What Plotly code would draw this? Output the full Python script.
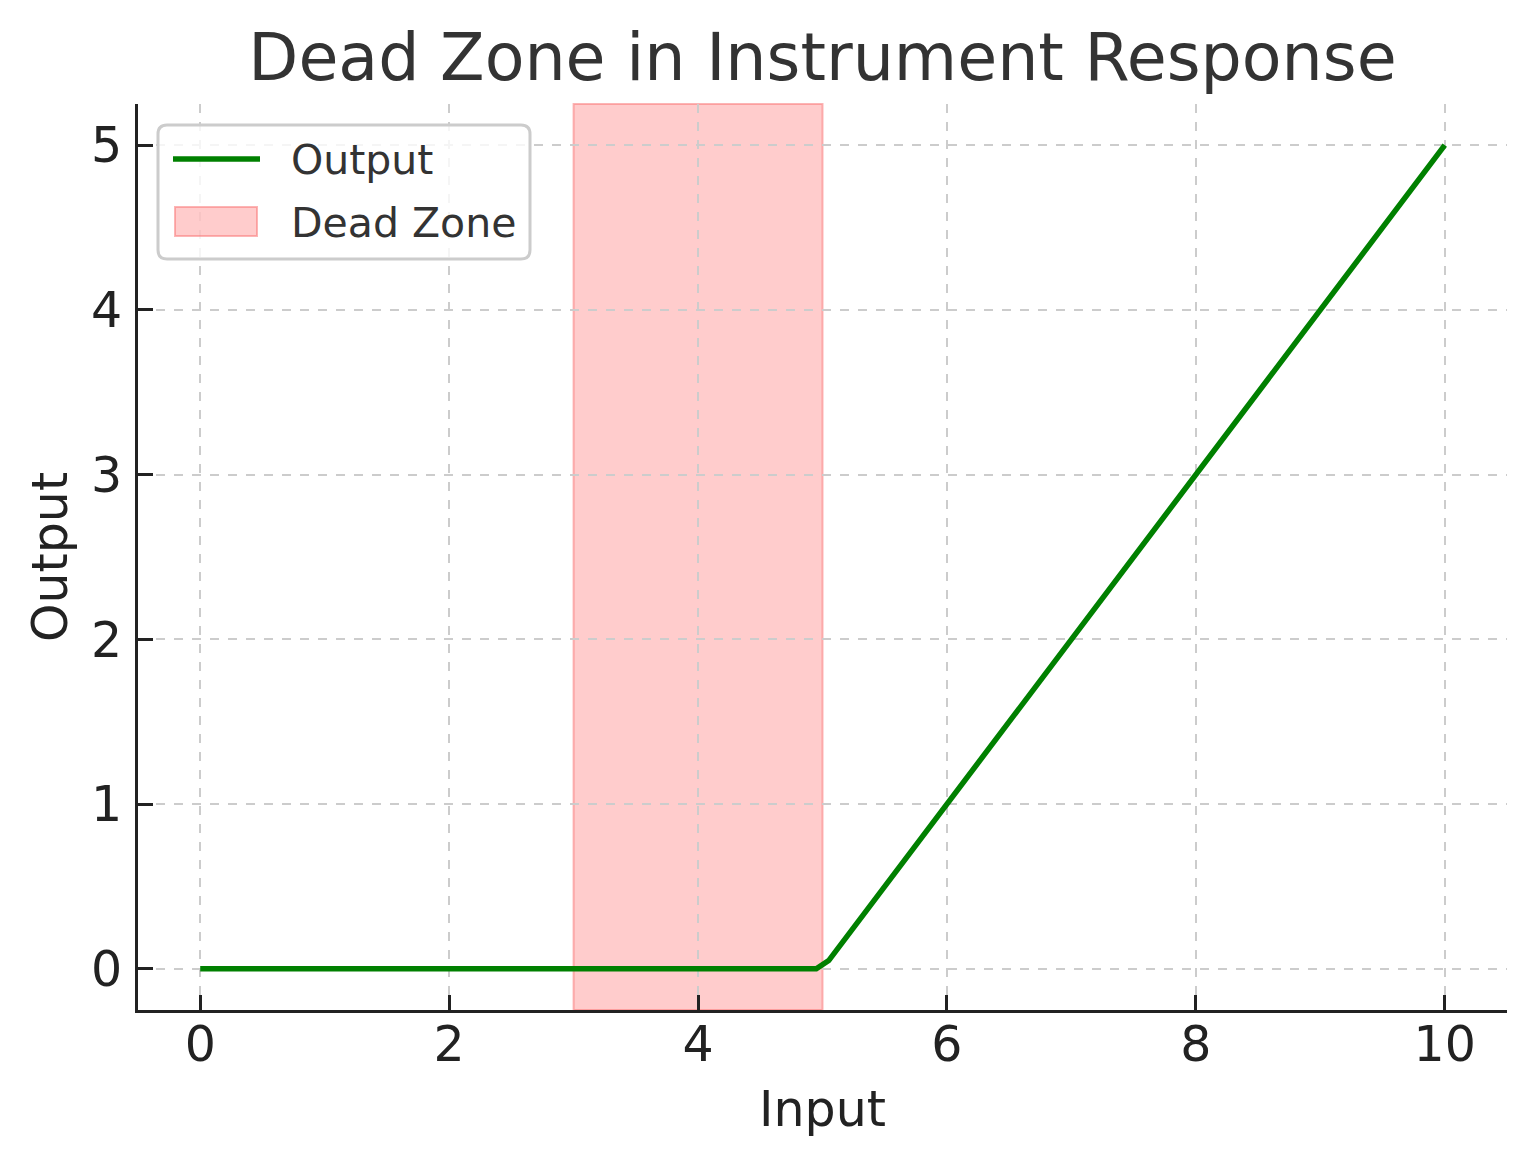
import plotly.graph_objects as go

# Data
input_x = [0, 4.95, 5.05, 10]
output_y = [0, 0, 0.05, 5]
dead_zone = [3, 5]
x_range = [-0.5, 10.5]
y_range = [-0.25, 5.25]
x_ticks = [0, 2, 4, 6, 8, 10]
y_ticks = [0, 1, 2, 3, 4, 5]
series_names = ["Output", "Dead Zone"]

FONT = "DejaVu Sans"
W, H = 1536, 1165
OFF = 8  # page body margin in the screenshot
PW, PH = 1369, 906
ML, MT = 138 - OFF, 104 - OFF
MR, MB = W - ML - PW, H - MT - PH

LINE_COLOR = "#008000"
ZONE_FILL = "rgba(255,0,0,0.2)"
ZONE_EDGE = "rgba(250,120,120,0.55)"


def px(xp):
    # screenshot pixel x -> paper coordinate
    return (xp - OFF - ML) / PW


def py(yp):
    # screenshot pixel y -> paper coordinate
    return (MT + PH - (yp - OFF)) / PH


fig = go.Figure()

fig.add_trace(go.Scatter(
    x=input_x, y=output_y, mode="lines",
    line=dict(color=LINE_COLOR, width=5.5),
    name=series_names[0], showlegend=False,
))

shapes = [
    dict(type="rect", xref="x", yref="paper",
         x0=dead_zone[0], x1=dead_zone[1], y0=0, y1=1,
         fillcolor=ZONE_FILL, line=dict(color=ZONE_EDGE, width=2), layer="below"),
]

# legend drawn manually (rounded frame + symbols)
bx0, bx1, by0, by1 = px(158), px(530), py(125), py(259)
rx, ry = 9 / PW, 9 / PH
path = (f"M{bx0+rx},{by0} L{bx1-rx},{by0} Q{bx1},{by0} {bx1},{by0-ry} "
        f"L{bx1},{by1+ry} Q{bx1},{by1} {bx1-rx},{by1} "
        f"L{bx0+rx},{by1} Q{bx0},{by1} {bx0},{by1+ry} "
        f"L{bx0},{by0-ry} Q{bx0},{by0} {bx0+rx},{by0} Z")
shapes.append(dict(type="path", xref="paper", yref="paper", path=path,
                   fillcolor="rgba(255,255,255,0.8)",
                   line=dict(color="#cccccc", width=3), layer="above"))
shapes.append(dict(type="line", xref="paper", yref="paper",
                   x0=px(173), x1=px(260), y0=py(159), y1=py(159),
                   line=dict(color=LINE_COLOR, width=5.5), layer="above"))
shapes.append(dict(type="rect", xref="paper", yref="paper",
                   x0=px(175), x1=px(257), y0=py(207), y1=py(236),
                   fillcolor=ZONE_FILL, line=dict(color=ZONE_EDGE, width=2), layer="above"))

annotations = [
    dict(text=series_names[0], xref="paper", yref="paper", x=px(289), y=py(160),
         xanchor="left", yanchor="middle", showarrow=False,
         font=dict(family=FONT, size=41, color="#333")),
    dict(text=series_names[1], xref="paper", yref="paper", x=px(289), y=py(223),
         xanchor="left", yanchor="middle", showarrow=False,
         font=dict(family=FONT, size=41, color="#333")),
]

axis_common = dict(
    showline=True, linecolor="#222", linewidth=3, mirror=False,
    ticks="inside", ticklen=15, tickwidth=3, tickcolor="#222",
    showgrid=True, gridcolor="#cccccc", gridwidth=2, griddash="dash",
    zeroline=False, automargin=False,
    tickfont=dict(family=FONT, size=49, color="#222"),
)

fig.update_layout(
    width=W, height=H,
    paper_bgcolor="white", plot_bgcolor="white",
    margin=dict(l=ML, r=MR, t=MT, b=MB),
    title=dict(
        text="Dead Zone in Instrument Response",
        font=dict(family=FONT, size=65, color="#333"),
        x=(ML + PW / 2) / W, xanchor="center",
        y=1 - 49 / H, yanchor="middle", yref="container",
    ),
    xaxis=dict(range=x_range, tickvals=x_ticks, ticklabelstandoff=-11,
               title=dict(text="Input", font=dict(family=FONT, size=49, color="#222"), standoff=20),
               **axis_common),
    yaxis=dict(range=y_range, tickvals=y_ticks, ticklabelstandoff=3,
               title=dict(text="Output", font=dict(family=FONT, size=49, color="#222"), standoff=8),
               **axis_common),
    shapes=shapes,
    annotations=annotations,
    showlegend=False,
)

fig.write_html("out.html")
